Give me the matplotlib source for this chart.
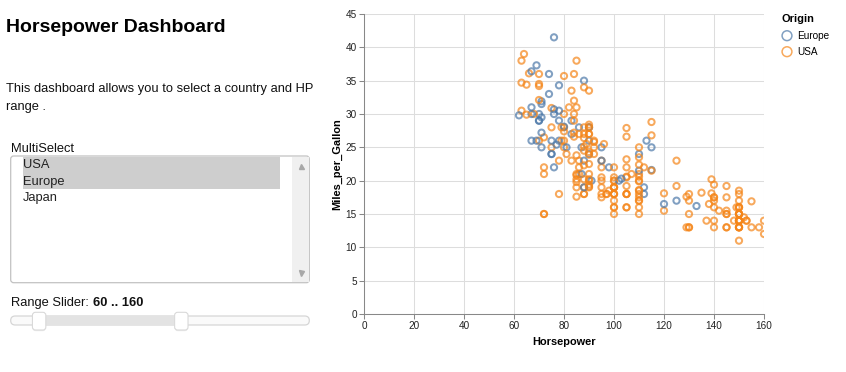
import matplotlib
matplotlib.use("Agg")
import matplotlib.pyplot as plt
from matplotlib.patches import FancyBboxPatch, Rectangle

plt.rcParams['font.family'] = ['Liberation Sans', 'DejaVu Sans']

# cars filtered to Origin in (USA, Europe) and Horsepower in the slider range
hp = [130, 150, 150, 140, 150, 160, 95, 97, 85, 87, 90, 95, 113, 90,
      90, 100, 105, 100, 88, 100, 153, 150, 110, 72, 100, 88, 86, 90, 70, 76, 70,
      80, 90, 86, 150, 153, 150, 155, 160, 150, 130, 140, 150, 112, 76, 87, 69, 86, 80,
      150, 145, 137, 150, 150, 158, 150, 105, 100, 100, 88, 95, 150, 100, 72, 85, 107,
      90, 145, 75, 91, 112, 150, 110,
      95, 100, 100, 80, 75, 100, 110, 105, 140, 150, 150, 140, 150, 83, 67, 78, 75, 75,
      75, 67,
      95, 105, 72, 72, 145, 150, 148, 110, 105, 110, 95, 110, 110, 129, 83, 100, 78, 71,
      97, 70, 90, 95, 88, 98, 115,
      86, 81, 92, 79, 83, 140, 150, 120, 152, 100, 105, 81, 90, 70, 100, 78, 110, 95, 71,
      72, 102, 150, 88, 120, 145, 130, 150,
      80, 96, 145, 110, 145, 130, 110, 105, 100, 98, 149, 78, 88, 89, 63, 83, 78, 110,
      66, 110, 140, 139, 105, 95, 85, 88, 100, 90, 105, 85, 110, 120, 145, 139, 140, 68,
      75, 105, 85, 103, 125, 115, 133, 71,
      115, 85, 88, 90, 110, 130, 129, 138, 135, 155, 142, 125, 150, 71, 80, 80, 77, 125,
      71, 90, 70, 70, 69, 90, 115, 115, 90,
      76, 70, 90, 88, 90, 90, 78, 105, 67, 67, 62, 88,
      84, 84, 92, 110, 84, 64, 63, 65, 65, 74, 80, 76, 110, 105, 88, 85,
      88, 88, 88, 85, 84, 90, 92, 74, 63, 70, 110, 85, 92, 112, 84, 90, 86, 84, 79, 82]
mpg = [18, 18, 16, 17, 15, 14, 22, 18, 21, 25, 24, 25, 26, 21,
       28, 19, 16, 17, 19, 18, 14, 14, 18, 22, 19, 18, 23, 28, 30, 30, 26,
       25, 20, 21, 15, 14, 17, 13, 12, 15, 13, 13, 14, 18, 22, 21, 26, 22, 28,
       14, 13, 14, 15, 13, 13, 14, 18, 16, 18, 18, 23, 11, 18, 21, 19, 21,
       26, 15, 24, 20, 19, 15, 24,
       20, 19, 15, 26, 25, 16, 16, 18, 16, 13, 14, 14, 14, 29, 26, 26, 28, 24,
       26, 31,
       19, 18, 15, 15, 15, 16, 14, 17, 16, 15, 18, 21, 20, 13, 23, 20, 23, 25,
       18, 29, 19, 23, 23, 22, 25,
       28, 25, 25, 26, 27, 17.5, 16, 15.5, 14.5, 22, 22, 24, 22.5, 29, 20, 18, 18.5, 17.5,
       29.5, 26.5, 20, 13, 19, 16.5, 13, 13, 13,
       30, 25.5, 17.5, 17, 15.5, 15, 17.5, 20.5, 19, 18.5, 16, 29, 24.5, 25.5, 30.5, 33.5,
       30.5, 21.5,
       36.1, 19.9, 19.4, 20.2, 19.2, 20.5, 20.2, 25.1, 20.5, 19.4, 20.6, 20.8, 18.6, 18.1,
       19.2, 18.1, 17.5, 30, 30.9, 23.2, 23.8, 20.3, 17, 21.6, 16.2, 31.5,
       21.5, 19.8, 22.3, 20.2, 20.6, 17, 17.6, 16.5, 18.2, 16.9, 15.5, 19.2, 18.5, 31.9,
       35.7, 27.4, 25.4, 23, 27.2, 23.9, 34.2, 34.5, 37.3, 28.4, 28.8, 26.8, 33.5,
       41.5, 32.1, 28, 26.4, 24.3, 19.1, 34.3, 27.9, 36.4, 30, 29.8, 35,
       27.2, 26.6, 25.8, 23.5, 30, 39, 34.7, 34.4, 29.9, 33, 28.1, 30.7, 22.4, 26.6, 20.2,
       17.6,
       28, 27, 34, 31, 29, 27, 24, 36, 38, 36, 25, 38, 26, 22, 36, 27, 27, 32, 28, 31]
E, U = "Europe", "USA"
origin = ([U] * 9 + [E] * 4 + [U]
          + [U] * 13 + [E] * 3 + [U]
          + [U] * 12 + [E] * 4 + [U] * 2
          + [U] * 17 + [E, U, E, E, E, U, E]
          + [U] * 13 + [E] * 3 + [U] + [E] * 3
          + [U] * 17 + [E, U, E, U] + [E] * 4
          + [E, E, U, U, E] + [U] * 8
          + [E, U, U, U, U, E, U, E, U, E, E, U, U, U]
          + [U] * 11 + [E] + [U] * 4 + [E, E]
          + [U] * 21 + [E] * 5
          + [U] * 13 + [E, U, U, E, U, E, U, U, U, E, U, U, U, U]
          + [E, U, U, U, U, U, E, U, E, E, E, E]
          + [U] * 9 + [E] * 3 + [U] * 4
          + [U] * 7 + [E] + [U] * 12)

legend_labels = ["Europe", "USA"]
legend_colors = ["#4c78a8", "#f58518"]
x_ticks = list(range(0, 161, 20))
y_ticks = list(range(0, 46, 5))

options = ["USA", "Europe", "Japan"]
selected = ["USA", "Europe"]
slider_start, slider_end = 40, 250
hp_range = (60, 160)

W, H = 846, 372
fig = plt.figure(figsize=(W / 100, H / 100), dpi=100)

# full-figure axes in pixel units for the widgets
bg = fig.add_axes([0, 0, 1, 1])
bg.axis('off')
bg.set_xlim(0, W)
bg.set_ylim(H, 0)
bg.autoscale(False)

bg.text(6, 32, "Horsepower Dashboard", fontsize=14, fontweight='bold',
        va='baseline', color='#000')
bg.text(6, 92, "This dashboard allows you to select a country and HP",
        fontsize=9.3, va='baseline', color='#111')
bg.text(6, 110, "range .", fontsize=9.3, va='baseline', color='#111')

# multiselect
bg.text(10.7, 151.5, "MultiSelect", fontsize=9.3, va='baseline', color='#111')
bg.add_patch(FancyBboxPatch((10.7, 156), 298.6, 126.7,
                            boxstyle='round,pad=0,rounding_size=3',
                            fc='white', ec='#c2c2c2', lw=0.9))
for i, opt in enumerate(options):
    top = 156.5 + 16 * i
    if opt in selected:
        bg.add_patch(Rectangle((22.7, top), 257.3, 16, fc='#cecece', ec='none'))
    bg.text(23, top + 12, opt, fontsize=9.3, va='baseline', color='#222')
bg.add_patch(Rectangle((292, 156.8), 17, 125.5, fc='#f0f0f0', ec='none'))
bg.plot([300.5], [166], marker='^', ms=3.6, color='#a8a8a8', ls='none')
bg.plot([300.5], [272.5], marker='v', ms=3.6, color='#a8a8a8', ls='none')

# range slider
renderer = fig.canvas.get_renderer()
lab = bg.text(10.7, 306, "Range Slider:", fontsize=9.3, va='baseline', color='#111')
x_end = lab.get_window_extent(renderer).x1
bg.text(x_end + 4, 306, f"{hp_range[0]} .. {hp_range[1]}", fontsize=9.3,
        fontweight='bold', va='baseline', color='#111')

tx0, tw = 10.7, 298.6
bg.add_patch(FancyBboxPatch((tx0, 316), tw, 9, boxstyle='round,pad=0,rounding_size=4.5',
                            fc='#fafafa', ec='#d6d6d6', lw=0.9))
hx = [tx0 + (v - slider_start) / (slider_end - slider_start) * tw for v in hp_range]
bg.add_patch(Rectangle((hx[0], 316.6), hx[1] - hx[0], 7.8, fc='#e3e3e3', ec='none'))
for cx in hx:
    bg.add_patch(FancyBboxPatch((cx - 6.7, 313.5), 13.4, 17.7,
                                boxstyle='round,pad=0,rounding_size=3',
                                fc='#000', ec='none', alpha=0.07))
    bg.add_patch(FancyBboxPatch((cx - 6.7, 312.3), 13.4, 17.7,
                                boxstyle='round,pad=0,rounding_size=3',
                                fc='white', ec='#d9d9d9', lw=0.8))

# axis titles and legend
bg.text(564.5, 345, "Horsepower", fontsize=7.9, fontweight='bold', ha='center',
        va='baseline', color='#000')
bg.text(337.5, 164, "Miles_per_Gallon", fontsize=7.9, fontweight='bold', ha='center',
        va='center', rotation=90, color='#000')
bg.text(782, 22.5, "Origin", fontsize=7.9, fontweight='bold', va='baseline', color='#000')
for i, (name, col) in enumerate(zip(legend_labels, legend_colors)):
    y = 35.7 + 16 * i
    bg.scatter([787], [y], s=50, facecolors='none', edgecolors=col, linewidths=1.1,
               alpha=0.7)
    bg.text(797.5, y + 3.4, name, fontsize=7.2, va='baseline', color='#000')

# scatter chart
ax = fig.add_axes([364 / W, (H - 314) / H, 400 / W, 300 / H])
ax.set_facecolor('none')
colors = [legend_colors[legend_labels.index(o)] for o in origin]
ax.scatter(hp, mpg, s=20, facecolors='none', edgecolors=colors, linewidths=1.45,
           alpha=0.7, zorder=3)
ax.set_xlim(0, 160)
ax.set_ylim(0, 45)
ax.set_xticks(x_ticks)
ax.set_yticks(y_ticks)
ax.set_axisbelow(True)
ax.grid(color='#dddddd', linewidth=0.75)
for side in ['top', 'right']:
    ax.spines[side].set_visible(False)
for side in ['left', 'bottom']:
    ax.spines[side].set_color('#888888')
    ax.spines[side].set_linewidth(0.75)
ax.tick_params(length=3.6, width=0.75, color='#888888', labelsize=7.2,
               labelcolor='#222', pad=1.5)

fig.savefig("out.png", dpi=100)
